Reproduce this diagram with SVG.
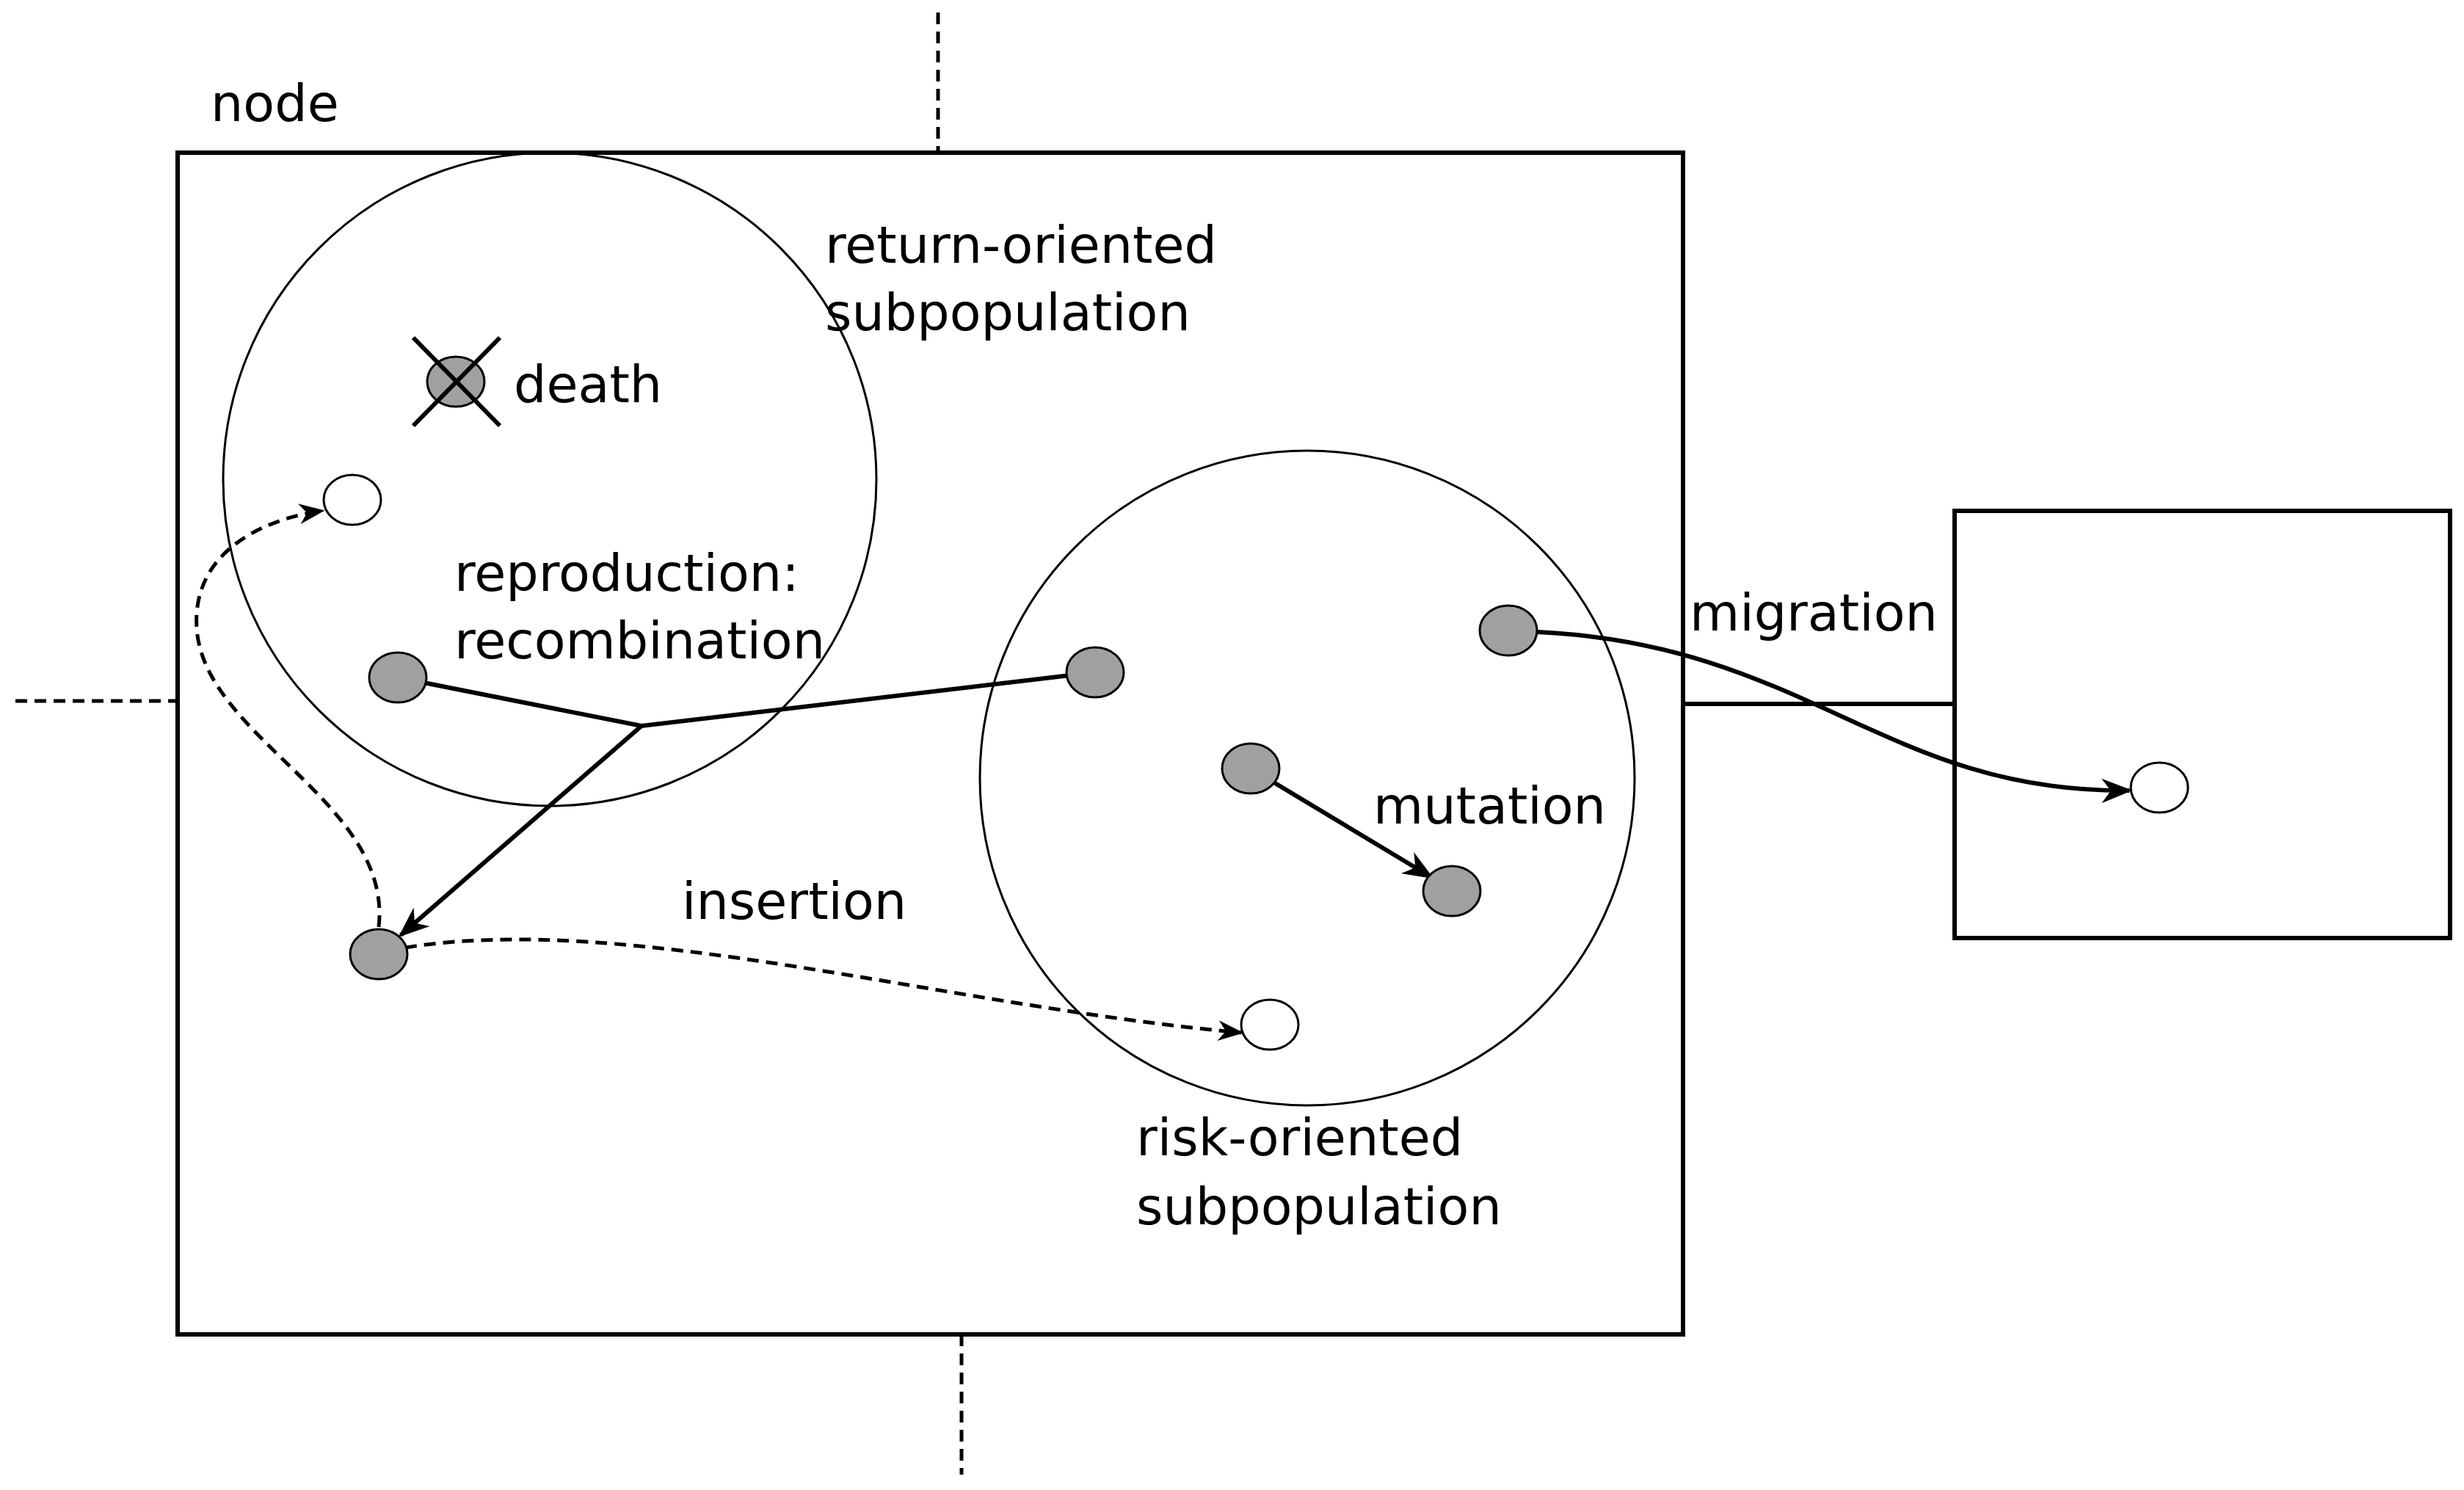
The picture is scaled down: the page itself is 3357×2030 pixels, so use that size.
<svg xmlns="http://www.w3.org/2000/svg" width="3357" height="2030" viewBox="0 0 3357 2030">
<style>
.t{font-family:"DejaVu Sans",sans-serif;font-size:70px;fill:#000}
.box{fill:none;stroke:#000;stroke-width:6}
.circ{fill:none;stroke:#000;stroke-width:3}
.g{fill:#a0a0a0;stroke:#000;stroke-width:3}
.w{fill:#fff;stroke:#000;stroke-width:3}
.ln{fill:none;stroke:#000;stroke-width:6}
.d{fill:none;stroke:#000;stroke-width:5;stroke-dasharray:16,10}
</style>
<defs><marker id="a" viewBox="0 0 10 10" refX="9" refY="5" markerWidth="7" markerHeight="7" orient="auto" markerUnits="strokeWidth"><path d="M0,1 L10,5 L0,9 L3,5 z" fill="#000"/></marker></defs>
<rect width="3357" height="2030" fill="#fff"/>
<g id="mainbox"><rect class="box" x="242" y="208" width="2051" height="1610"/></g>
<g id="rightbox"><rect class="box" x="2663" y="696" width="675" height="582"/></g>
<g id="returnpop"><circle class="circ" cx="749" cy="653" r="445"/></g>
<g id="riskpop"><circle class="circ" cx="1781" cy="1060" r="446"/></g>
<g id="connectors">
<line class="d" x1="1278" y1="17" x2="1278" y2="208"/>
<line class="d" x1="1310" y1="1818" x2="1310" y2="2009"/>
<line class="d" x1="21" y1="955" x2="242" y2="955"/>
<line class="ln" x1="2293" y1="959" x2="2663" y2="959"/>
<polyline class="ln" points="542,923 874,989 1492,916"/>
<line class="ln" x1="874" y1="989" x2="546" y2="1274" marker-end="url(#a)"/>
<line class="ln" x1="1704" y1="1047" x2="1950" y2="1195" marker-end="url(#a)"/>
<path class="ln" d="M2094,861 C2462,878 2569,1081 2901,1077" marker-end="url(#a)"/>
<path class="d" d="M516,1263 C535,1092 278,1006 268,856 C261,749 364,706 439,696" marker-end="url(#a)"/>
<path class="d" d="M552,1291 C856,1242 1285,1370 1691,1407" marker-end="url(#a)"/>
</g>
<g id="nodes">
<ellipse class="g" cx="621" cy="520" rx="39" ry="34"/>
<line class="ln" x1="563" y1="460" x2="681" y2="580" stroke-width="4"/>
<line class="ln" x1="681" y1="460" x2="563" y2="580" stroke-width="4"/>
<ellipse class="w" cx="480" cy="681" rx="39" ry="34"/>
<ellipse class="g" cx="542" cy="923" rx="39" ry="34"/>
<ellipse class="g" cx="1492" cy="916" rx="39" ry="34"/>
<ellipse class="g" cx="2055" cy="859" rx="39" ry="34"/>
<ellipse class="g" cx="1704" cy="1047" rx="39" ry="34"/>
<ellipse class="g" cx="1978" cy="1214" rx="39" ry="34"/>
<ellipse class="g" cx="516" cy="1300" rx="39" ry="34"/>
<ellipse class="w" cx="1730" cy="1396" rx="39" ry="34"/>
<ellipse class="w" cx="2942" cy="1073" rx="39" ry="34"/>
</g>
<g id="labels">
<text class="t" x="287" y="165">node</text>
<text class="t" x="1124" y="358">return-oriented</text>
<text class="t" x="1124" y="450">subpopulation</text>
<text class="t" x="700" y="548">death</text>
<text class="t" x="619" y="805">reproduction:</text>
<text class="t" x="619" y="897">recombination</text>
<text class="t" x="929" y="1252">insertion</text>
<text class="t" x="1871" y="1122">mutation</text>
<text class="t" x="2302" y="859">migration</text>
<text class="t" x="1548" y="1574">risk-oriented</text>
<text class="t" x="1548" y="1668">subpopulation</text>
</g>
</svg>
